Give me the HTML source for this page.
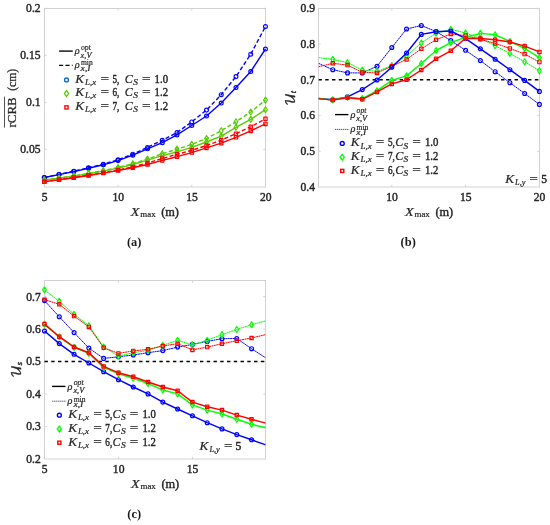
<!DOCTYPE html>
<html lang="en"><head><meta charset="utf-8"><title>Figure</title>
<style>
html,body{margin:0;padding:0;background:#ffffff;}
body{width:550px;height:525px;overflow:hidden;}
svg{display:block;font-family:"Liberation Serif", serif;fill:#262626;}
text{stroke:#262626;stroke-width:0.42px;}
text.s{stroke-width:0.2px;}
text.n{stroke-width:0.22px;}
</style></head>
<body>
<svg width="550" height="525" viewBox="0 0 550 525">
<rect x="0" y="0" width="550" height="525" fill="#ffffff"/>
<rect x="44.5" y="8.5" width="221" height="178.5" fill="none" stroke="#d2d2d2" stroke-width="1"/>
<path d="M44.3 187v-2.2 M44.3 8.5v2.2 M118.02 187v-2.2 M118.02 8.5v2.2 M191.75 187v-2.2 M191.75 8.5v2.2 M265.47 187v-2.2 M265.47 8.5v2.2 M44.5 149.38h2.2 M265.5 149.38h-2.2 M44.5 102.35h2.2 M265.5 102.35h-2.2 M44.5 55.33h2.2 M265.5 55.33h-2.2 M44.5 8.3h2.2 M265.5 8.3h-2.2 " stroke="#d2d2d2" stroke-width="1" fill="none"/>
<g fill="none" stroke-linejoin="round">
<polyline points="44.3,177.5 59.04,174.4 73.79,171.2 88.53,167.8 103.28,164.2 118.02,159.8 132.77,154.2 147.51,147.4 162.26,140.3 177,132.5 191.75,121.9 206.5,110.1 221.24,94.7 235.99,76.6 250.73,54.2 265.47,26.5" stroke="#0000ff" stroke-width="1.4" stroke-dasharray="4.1 2.3"/>
<circle cx="44.3" cy="177.5" r="1.95" fill="none" stroke="#0000ff" stroke-width="1.15"/>
<circle cx="59.04" cy="174.4" r="1.95" fill="none" stroke="#0000ff" stroke-width="1.15"/>
<circle cx="73.79" cy="171.2" r="1.95" fill="none" stroke="#0000ff" stroke-width="1.15"/>
<circle cx="88.53" cy="167.8" r="1.95" fill="none" stroke="#0000ff" stroke-width="1.15"/>
<circle cx="103.28" cy="164.2" r="1.95" fill="none" stroke="#0000ff" stroke-width="1.15"/>
<circle cx="118.02" cy="159.8" r="1.95" fill="none" stroke="#0000ff" stroke-width="1.15"/>
<circle cx="132.77" cy="154.2" r="1.95" fill="none" stroke="#0000ff" stroke-width="1.15"/>
<circle cx="147.51" cy="147.4" r="1.95" fill="none" stroke="#0000ff" stroke-width="1.15"/>
<circle cx="162.26" cy="140.3" r="1.95" fill="none" stroke="#0000ff" stroke-width="1.15"/>
<circle cx="177" cy="132.5" r="1.95" fill="none" stroke="#0000ff" stroke-width="1.15"/>
<circle cx="191.75" cy="121.9" r="1.95" fill="none" stroke="#0000ff" stroke-width="1.15"/>
<circle cx="206.5" cy="110.1" r="1.95" fill="none" stroke="#0000ff" stroke-width="1.15"/>
<circle cx="221.24" cy="94.7" r="1.95" fill="none" stroke="#0000ff" stroke-width="1.15"/>
<circle cx="235.99" cy="76.6" r="1.95" fill="none" stroke="#0000ff" stroke-width="1.15"/>
<circle cx="250.73" cy="54.2" r="1.95" fill="none" stroke="#0000ff" stroke-width="1.15"/>
<circle cx="265.47" cy="26.5" r="1.95" fill="none" stroke="#0000ff" stroke-width="1.15"/>
<polyline points="44.3,177.5 59.04,174.6 73.79,171.6 88.53,168.3 103.28,164.8 118.02,160.6 132.77,155.2 147.51,148.8 162.26,142.7 177,134.9 191.75,125.5 206.5,116 221.24,103 235.99,87.5 250.73,71.5 265.47,49" stroke="#0000ff" stroke-width="1.4"/>
<circle cx="44.3" cy="177.5" r="1.95" fill="none" stroke="#0000ff" stroke-width="1.15"/>
<circle cx="59.04" cy="174.6" r="1.95" fill="none" stroke="#0000ff" stroke-width="1.15"/>
<circle cx="73.79" cy="171.6" r="1.95" fill="none" stroke="#0000ff" stroke-width="1.15"/>
<circle cx="88.53" cy="168.3" r="1.95" fill="none" stroke="#0000ff" stroke-width="1.15"/>
<circle cx="103.28" cy="164.8" r="1.95" fill="none" stroke="#0000ff" stroke-width="1.15"/>
<circle cx="118.02" cy="160.6" r="1.95" fill="none" stroke="#0000ff" stroke-width="1.15"/>
<circle cx="132.77" cy="155.2" r="1.95" fill="none" stroke="#0000ff" stroke-width="1.15"/>
<circle cx="147.51" cy="148.8" r="1.95" fill="none" stroke="#0000ff" stroke-width="1.15"/>
<circle cx="162.26" cy="142.7" r="1.95" fill="none" stroke="#0000ff" stroke-width="1.15"/>
<circle cx="177" cy="134.9" r="1.95" fill="none" stroke="#0000ff" stroke-width="1.15"/>
<circle cx="191.75" cy="125.5" r="1.95" fill="none" stroke="#0000ff" stroke-width="1.15"/>
<circle cx="206.5" cy="116" r="1.95" fill="none" stroke="#0000ff" stroke-width="1.15"/>
<circle cx="221.24" cy="103" r="1.95" fill="none" stroke="#0000ff" stroke-width="1.15"/>
<circle cx="235.99" cy="87.5" r="1.95" fill="none" stroke="#0000ff" stroke-width="1.15"/>
<circle cx="250.73" cy="71.5" r="1.95" fill="none" stroke="#0000ff" stroke-width="1.15"/>
<circle cx="265.47" cy="49" r="1.95" fill="none" stroke="#0000ff" stroke-width="1.15"/>
<polyline points="44.3,180 59.04,178 73.79,175.9 88.53,173.5 103.28,170.7 118.02,167.5 132.77,163.7 147.51,159 162.26,153.8 177,149.1 191.75,144.4 206.5,138.5 221.24,130.7 235.99,121.8 250.73,112 265.47,100.1" stroke="#55cc00" stroke-width="1.4" stroke-dasharray="4.1 2.3"/>
<path d="M44.3 177 L46.2 180 L44.3 183 L42.4 180Z" fill="none" stroke="#55cc00" stroke-width="1.15"/>
<path d="M59.04 175 L60.94 178 L59.04 181 L57.14 178Z" fill="none" stroke="#55cc00" stroke-width="1.15"/>
<path d="M73.79 172.9 L75.69 175.9 L73.79 178.9 L71.89 175.9Z" fill="none" stroke="#55cc00" stroke-width="1.15"/>
<path d="M88.53 170.5 L90.44 173.5 L88.53 176.5 L86.63 173.5Z" fill="none" stroke="#55cc00" stroke-width="1.15"/>
<path d="M103.28 167.7 L105.18 170.7 L103.28 173.7 L101.38 170.7Z" fill="none" stroke="#55cc00" stroke-width="1.15"/>
<path d="M118.02 164.5 L119.92 167.5 L118.02 170.5 L116.12 167.5Z" fill="none" stroke="#55cc00" stroke-width="1.15"/>
<path d="M132.77 160.7 L134.67 163.7 L132.77 166.7 L130.87 163.7Z" fill="none" stroke="#55cc00" stroke-width="1.15"/>
<path d="M147.51 156 L149.41 159 L147.51 162 L145.61 159Z" fill="none" stroke="#55cc00" stroke-width="1.15"/>
<path d="M162.26 150.8 L164.16 153.8 L162.26 156.8 L160.36 153.8Z" fill="none" stroke="#55cc00" stroke-width="1.15"/>
<path d="M177 146.1 L178.91 149.1 L177 152.1 L175.1 149.1Z" fill="none" stroke="#55cc00" stroke-width="1.15"/>
<path d="M191.75 141.4 L193.65 144.4 L191.75 147.4 L189.85 144.4Z" fill="none" stroke="#55cc00" stroke-width="1.15"/>
<path d="M206.5 135.5 L208.4 138.5 L206.5 141.5 L204.59 138.5Z" fill="none" stroke="#55cc00" stroke-width="1.15"/>
<path d="M221.24 127.7 L223.14 130.7 L221.24 133.7 L219.34 130.7Z" fill="none" stroke="#55cc00" stroke-width="1.15"/>
<path d="M235.99 118.8 L237.89 121.8 L235.99 124.8 L234.09 121.8Z" fill="none" stroke="#55cc00" stroke-width="1.15"/>
<path d="M250.73 109 L252.63 112 L250.73 115 L248.83 112Z" fill="none" stroke="#55cc00" stroke-width="1.15"/>
<path d="M265.47 97.1 L267.37 100.1 L265.47 103.1 L263.57 100.1Z" fill="none" stroke="#55cc00" stroke-width="1.15"/>
<polyline points="44.3,180 59.04,178.1 73.79,176.1 88.53,173.8 103.28,171.1 118.02,168.1 132.77,164.5 147.51,160.2 162.26,155.7 177,151.9 191.75,147.4 206.5,142 221.24,136.1 235.99,127.3 250.73,119.4 265.47,109.7" stroke="#55cc00" stroke-width="1.4"/>
<path d="M44.3 177 L46.2 180 L44.3 183 L42.4 180Z" fill="none" stroke="#55cc00" stroke-width="1.15"/>
<path d="M59.04 175.1 L60.94 178.1 L59.04 181.1 L57.14 178.1Z" fill="none" stroke="#55cc00" stroke-width="1.15"/>
<path d="M73.79 173.1 L75.69 176.1 L73.79 179.1 L71.89 176.1Z" fill="none" stroke="#55cc00" stroke-width="1.15"/>
<path d="M88.53 170.8 L90.44 173.8 L88.53 176.8 L86.63 173.8Z" fill="none" stroke="#55cc00" stroke-width="1.15"/>
<path d="M103.28 168.1 L105.18 171.1 L103.28 174.1 L101.38 171.1Z" fill="none" stroke="#55cc00" stroke-width="1.15"/>
<path d="M118.02 165.1 L119.92 168.1 L118.02 171.1 L116.12 168.1Z" fill="none" stroke="#55cc00" stroke-width="1.15"/>
<path d="M132.77 161.5 L134.67 164.5 L132.77 167.5 L130.87 164.5Z" fill="none" stroke="#55cc00" stroke-width="1.15"/>
<path d="M147.51 157.2 L149.41 160.2 L147.51 163.2 L145.61 160.2Z" fill="none" stroke="#55cc00" stroke-width="1.15"/>
<path d="M162.26 152.7 L164.16 155.7 L162.26 158.7 L160.36 155.7Z" fill="none" stroke="#55cc00" stroke-width="1.15"/>
<path d="M177 148.9 L178.91 151.9 L177 154.9 L175.1 151.9Z" fill="none" stroke="#55cc00" stroke-width="1.15"/>
<path d="M191.75 144.4 L193.65 147.4 L191.75 150.4 L189.85 147.4Z" fill="none" stroke="#55cc00" stroke-width="1.15"/>
<path d="M206.5 139 L208.4 142 L206.5 145 L204.59 142Z" fill="none" stroke="#55cc00" stroke-width="1.15"/>
<path d="M221.24 133.1 L223.14 136.1 L221.24 139.1 L219.34 136.1Z" fill="none" stroke="#55cc00" stroke-width="1.15"/>
<path d="M235.99 124.3 L237.89 127.3 L235.99 130.3 L234.09 127.3Z" fill="none" stroke="#55cc00" stroke-width="1.15"/>
<path d="M250.73 116.4 L252.63 119.4 L250.73 122.4 L248.83 119.4Z" fill="none" stroke="#55cc00" stroke-width="1.15"/>
<path d="M265.47 106.7 L267.37 109.7 L265.47 112.7 L263.57 109.7Z" fill="none" stroke="#55cc00" stroke-width="1.15"/>
<polyline points="44.3,181.8 59.04,179.7 73.79,177.5 88.53,175.2 103.28,172.7 118.02,170 132.77,166.9 147.51,163 162.26,158.5 177,154.3 191.75,150.3 206.5,145.5 221.24,140.1 235.99,133.7 250.73,126.8 265.47,118.8" stroke="#ff0000" stroke-width="1.4" stroke-dasharray="4.1 2.3"/>
<rect x="42.65" y="180.15" width="3.3" height="3.3" fill="none" stroke="#ff0000" stroke-width="1.15"/>
<rect x="57.39" y="178.05" width="3.3" height="3.3" fill="none" stroke="#ff0000" stroke-width="1.15"/>
<rect x="72.14" y="175.85" width="3.3" height="3.3" fill="none" stroke="#ff0000" stroke-width="1.15"/>
<rect x="86.88" y="173.55" width="3.3" height="3.3" fill="none" stroke="#ff0000" stroke-width="1.15"/>
<rect x="101.63" y="171.05" width="3.3" height="3.3" fill="none" stroke="#ff0000" stroke-width="1.15"/>
<rect x="116.37" y="168.35" width="3.3" height="3.3" fill="none" stroke="#ff0000" stroke-width="1.15"/>
<rect x="131.12" y="165.25" width="3.3" height="3.3" fill="none" stroke="#ff0000" stroke-width="1.15"/>
<rect x="145.86" y="161.35" width="3.3" height="3.3" fill="none" stroke="#ff0000" stroke-width="1.15"/>
<rect x="160.61" y="156.85" width="3.3" height="3.3" fill="none" stroke="#ff0000" stroke-width="1.15"/>
<rect x="175.35" y="152.65" width="3.3" height="3.3" fill="none" stroke="#ff0000" stroke-width="1.15"/>
<rect x="190.1" y="148.65" width="3.3" height="3.3" fill="none" stroke="#ff0000" stroke-width="1.15"/>
<rect x="204.84" y="143.85" width="3.3" height="3.3" fill="none" stroke="#ff0000" stroke-width="1.15"/>
<rect x="219.59" y="138.45" width="3.3" height="3.3" fill="none" stroke="#ff0000" stroke-width="1.15"/>
<rect x="234.34" y="132.05" width="3.3" height="3.3" fill="none" stroke="#ff0000" stroke-width="1.15"/>
<rect x="249.08" y="125.15" width="3.3" height="3.3" fill="none" stroke="#ff0000" stroke-width="1.15"/>
<rect x="263.82" y="117.15" width="3.3" height="3.3" fill="none" stroke="#ff0000" stroke-width="1.15"/>
<polyline points="44.3,181.8 59.04,179.8 73.79,177.7 88.53,175.5 103.28,173.1 118.02,170.5 132.77,167.7 147.51,164.5 162.26,160.4 177,156.7 191.75,152.6 206.5,147.9 221.24,143.2 235.99,137.3 250.73,130.9 265.47,123.9" stroke="#ff0000" stroke-width="1.4"/>
<rect x="42.65" y="180.15" width="3.3" height="3.3" fill="none" stroke="#ff0000" stroke-width="1.15"/>
<rect x="57.39" y="178.15" width="3.3" height="3.3" fill="none" stroke="#ff0000" stroke-width="1.15"/>
<rect x="72.14" y="176.05" width="3.3" height="3.3" fill="none" stroke="#ff0000" stroke-width="1.15"/>
<rect x="86.88" y="173.85" width="3.3" height="3.3" fill="none" stroke="#ff0000" stroke-width="1.15"/>
<rect x="101.63" y="171.45" width="3.3" height="3.3" fill="none" stroke="#ff0000" stroke-width="1.15"/>
<rect x="116.37" y="168.85" width="3.3" height="3.3" fill="none" stroke="#ff0000" stroke-width="1.15"/>
<rect x="131.12" y="166.05" width="3.3" height="3.3" fill="none" stroke="#ff0000" stroke-width="1.15"/>
<rect x="145.86" y="162.85" width="3.3" height="3.3" fill="none" stroke="#ff0000" stroke-width="1.15"/>
<rect x="160.61" y="158.75" width="3.3" height="3.3" fill="none" stroke="#ff0000" stroke-width="1.15"/>
<rect x="175.35" y="155.05" width="3.3" height="3.3" fill="none" stroke="#ff0000" stroke-width="1.15"/>
<rect x="190.1" y="150.95" width="3.3" height="3.3" fill="none" stroke="#ff0000" stroke-width="1.15"/>
<rect x="204.84" y="146.25" width="3.3" height="3.3" fill="none" stroke="#ff0000" stroke-width="1.15"/>
<rect x="219.59" y="141.55" width="3.3" height="3.3" fill="none" stroke="#ff0000" stroke-width="1.15"/>
<rect x="234.34" y="135.65" width="3.3" height="3.3" fill="none" stroke="#ff0000" stroke-width="1.15"/>
<rect x="249.08" y="129.25" width="3.3" height="3.3" fill="none" stroke="#ff0000" stroke-width="1.15"/>
<rect x="263.82" y="122.25" width="3.3" height="3.3" fill="none" stroke="#ff0000" stroke-width="1.15"/>
</g>
<text x="40.6" y="153.28" font-size="11.6" text-anchor="end" >0.05</text>
<text x="40.6" y="106.25" font-size="11.6" text-anchor="end" >0.1</text>
<text x="40.6" y="59.23" font-size="11.6" text-anchor="end" >0.15</text>
<text x="40.6" y="12.2" font-size="11.6" text-anchor="end" >0.2</text>
<text x="44.6" y="201.2" font-size="11.6" text-anchor="middle" >5</text>
<text x="118.32" y="201.2" font-size="11.6" text-anchor="middle" >10</text>
<text x="192.05" y="201.2" font-size="11.6" text-anchor="middle" >15</text>
<text x="265.77" y="201.2" font-size="11.6" text-anchor="middle" >20</text>
<text x="130.88" y="215.7" font-size="12.3" textLength="8.65" lengthAdjust="spacingAndGlyphs" font-style="italic" class="n">X</text>
<text x="140.3" y="217.3" font-size="8" textLength="15.3" lengthAdjust="spacingAndGlyphs" class="s">max</text>
<text x="161.2" y="215.7" font-size="12.3" textLength="17.8" lengthAdjust="spacingAndGlyphs">(m)</text>
<g transform="translate(15.5 0) rotate(-90)">
<text x="-127.5" y="0" font-size="13.4" textLength="30.2" lengthAdjust="spacingAndGlyphs" style="stroke-width:0.25px">rCRB</text>
<text x="-90.8" y="0" font-size="13" textLength="21.9" lengthAdjust="spacingAndGlyphs" style="stroke-width:0.25px">(cm)</text>
<path d="M-127.6 -11H-96.6" stroke="#262626" stroke-width="0.8"/></g>
<path d="M59.1 51.1H72.7" stroke="#000" stroke-width="1.35"/>
<path d="M59.1 65.3H72.7" stroke="#000" stroke-width="1.35" stroke-dasharray="4.1 2.3"/>
<text x="74.77" y="54.3" font-size="10.6" textLength="4.93" lengthAdjust="spacingAndGlyphs" font-style="italic" class="n">ρ</text>
<text x="80.9" y="49.5" font-size="8.6" textLength="10" lengthAdjust="spacingAndGlyphs" class="s">opt</text>
<text x="80.61" y="57.5" font-size="7.9" textLength="10.88" lengthAdjust="spacingAndGlyphs" font-style="italic" class="s">x,V</text>
<text x="74.77" y="67.5" font-size="10.6" textLength="4.93" lengthAdjust="spacingAndGlyphs" font-style="italic" class="n">ρ</text>
<text x="80.9" y="65.3" font-size="8.6" textLength="11.8" lengthAdjust="spacingAndGlyphs" class="s">min</text>
<text x="80.63" y="70.7" font-size="7.9" textLength="9.89" lengthAdjust="spacingAndGlyphs" font-style="italic" class="s">x,I</text>
<circle cx="66.5" cy="79.9" r="1.95" fill="none" stroke="#0a66d6" stroke-width="1.35"/>
<path d="M66.5 90.6l2.1 2.9l-2.1 2.9l-2.1 -2.9z" fill="none" stroke="#55cc00" stroke-width="1.25"/>
<rect x="64.9" y="105.8" width="3.2" height="3.2" fill="none" stroke="#ff0000" stroke-width="1.35"/>
<text x="75.36" y="82.5" font-size="11.6" textLength="8.87" lengthAdjust="spacingAndGlyphs" font-style="italic" class="n">K</text>
<text x="85.11" y="84.7" font-size="7.8" textLength="11.09" lengthAdjust="spacingAndGlyphs" font-style="italic" class="s">L,x</text>
<text x="100.4" y="82.5" font-size="11.6" textLength="8.6" lengthAdjust="spacingAndGlyphs" class="n">=</text>
<text x="112.5" y="82.5" font-size="11.6" textLength="6.9" lengthAdjust="spacingAndGlyphs">5,</text>
<text x="124.8" y="82.5" font-size="11.6" textLength="8.08" lengthAdjust="spacingAndGlyphs" font-style="italic" class="n">C</text>
<text x="133.2" y="84.7" font-size="7.8" textLength="4.7" lengthAdjust="spacingAndGlyphs" font-style="italic" class="s">S</text>
<text x="141.9" y="82.5" font-size="11.6" textLength="8.6" lengthAdjust="spacingAndGlyphs" class="n">=</text>
<text x="154.6" y="82.5" font-size="11.6" textLength="13.4" lengthAdjust="spacingAndGlyphs">1.0</text>
<text x="75.36" y="96.15" font-size="11.6" textLength="8.87" lengthAdjust="spacingAndGlyphs" font-style="italic" class="n">K</text>
<text x="85.11" y="98.35" font-size="7.8" textLength="11.09" lengthAdjust="spacingAndGlyphs" font-style="italic" class="s">L,x</text>
<text x="100.4" y="96.15" font-size="11.6" textLength="8.6" lengthAdjust="spacingAndGlyphs" class="n">=</text>
<text x="112.5" y="96.15" font-size="11.6" textLength="6.9" lengthAdjust="spacingAndGlyphs">6,</text>
<text x="124.8" y="96.15" font-size="11.6" textLength="8.08" lengthAdjust="spacingAndGlyphs" font-style="italic" class="n">C</text>
<text x="133.2" y="98.35" font-size="7.8" textLength="4.7" lengthAdjust="spacingAndGlyphs" font-style="italic" class="s">S</text>
<text x="141.9" y="96.15" font-size="11.6" textLength="8.6" lengthAdjust="spacingAndGlyphs" class="n">=</text>
<text x="154.6" y="96.15" font-size="11.6" textLength="13.4" lengthAdjust="spacingAndGlyphs">1.2</text>
<text x="75.36" y="109.8" font-size="11.6" textLength="8.87" lengthAdjust="spacingAndGlyphs" font-style="italic" class="n">K</text>
<text x="85.11" y="112" font-size="7.8" textLength="11.09" lengthAdjust="spacingAndGlyphs" font-style="italic" class="s">L,x</text>
<text x="100.4" y="109.8" font-size="11.6" textLength="8.6" lengthAdjust="spacingAndGlyphs" class="n">=</text>
<text x="112.5" y="109.8" font-size="11.6" textLength="6.9" lengthAdjust="spacingAndGlyphs">7,</text>
<text x="124.8" y="109.8" font-size="11.6" textLength="8.08" lengthAdjust="spacingAndGlyphs" font-style="italic" class="n">C</text>
<text x="133.2" y="112" font-size="7.8" textLength="4.7" lengthAdjust="spacingAndGlyphs" font-style="italic" class="s">S</text>
<text x="141.9" y="109.8" font-size="11.6" textLength="8.6" lengthAdjust="spacingAndGlyphs" class="n">=</text>
<text x="154.6" y="109.8" font-size="11.6" textLength="13.4" lengthAdjust="spacingAndGlyphs">1.2</text>
<text x="134.2" y="246" font-size="12.4" font-weight="bold" text-anchor="middle" fill="#1a1a1a" style="stroke:none">(a)</text>
<rect x="318.5" y="8.5" width="221" height="178.5" fill="none" stroke="#d2d2d2" stroke-width="1"/>
<path d="M391.8 187v-2.2 M391.8 8.5v2.2 M465.6 187v-2.2 M465.6 8.5v2.2 M539.4 187v-2.2 M539.4 8.5v2.2 M318.5 151.34h2.2 M539.5 151.34h-2.2 M318.5 115.58h2.2 M539.5 115.58h-2.2 M318.5 79.82h2.2 M539.5 79.82h-2.2 M318.5 44.06h2.2 M539.5 44.06h-2.2 M318.5 8.3h2.2 M539.5 8.3h-2.2 " stroke="#d2d2d2" stroke-width="1" fill="none"/>
<clipPath id="cb"><rect x="318.5" y="4.5" width="226" height="186.5"/></clipPath>
<g fill="none" stroke-linejoin="round" clip-path="url(#cb)">
<path d="M318.5 79.82H539.5" stroke="#000" stroke-width="1.5" stroke-dasharray="3.4 3.36"/>
<polyline points="318.44,63.3 332.76,69.7 347.52,72.9 362.28,72.9 377.04,66.3 391.8,47.5 406.56,29 421.32,25.5 436.08,31.5 450.84,40.6 465.6,50.3 480.36,60.6 495.12,71.7 509.88,82.7 524.64,93.5 539.4,104.4" stroke="#0000ff" stroke-width="0.99" stroke-dasharray="2 0.4"/>
<circle cx="332.76" cy="69.7" r="1.95" fill="none" stroke="#0000ff" stroke-width="1.2"/>
<circle cx="347.52" cy="72.9" r="1.95" fill="none" stroke="#0000ff" stroke-width="1.2"/>
<circle cx="362.28" cy="72.9" r="1.95" fill="none" stroke="#0000ff" stroke-width="1.2"/>
<circle cx="377.04" cy="66.3" r="1.95" fill="none" stroke="#0000ff" stroke-width="1.2"/>
<circle cx="391.8" cy="47.5" r="1.95" fill="none" stroke="#0000ff" stroke-width="1.2"/>
<circle cx="406.56" cy="29" r="1.95" fill="none" stroke="#0000ff" stroke-width="1.2"/>
<circle cx="421.32" cy="25.5" r="1.95" fill="none" stroke="#0000ff" stroke-width="1.2"/>
<circle cx="436.08" cy="31.5" r="1.95" fill="none" stroke="#0000ff" stroke-width="1.2"/>
<circle cx="450.84" cy="40.6" r="1.95" fill="none" stroke="#0000ff" stroke-width="1.2"/>
<circle cx="465.6" cy="50.3" r="1.95" fill="none" stroke="#0000ff" stroke-width="1.2"/>
<circle cx="480.36" cy="60.6" r="1.95" fill="none" stroke="#0000ff" stroke-width="1.2"/>
<circle cx="495.12" cy="71.7" r="1.95" fill="none" stroke="#0000ff" stroke-width="1.2"/>
<circle cx="509.88" cy="82.7" r="1.95" fill="none" stroke="#0000ff" stroke-width="1.2"/>
<circle cx="524.64" cy="93.5" r="1.95" fill="none" stroke="#0000ff" stroke-width="1.2"/>
<circle cx="539.4" cy="104.4" r="1.95" fill="none" stroke="#0000ff" stroke-width="1.2"/>
<polyline points="318.44,57.6 332.76,59.4 347.52,62.6 362.28,70.1 377.04,71.3 391.8,65.6 406.56,55.7 421.32,43 436.08,33.2 450.84,29.3 465.6,33 480.36,38.5 495.12,45.7 509.88,53.5 524.64,61.7 539.4,70.8" stroke="#00ff00" stroke-width="0.99" stroke-dasharray="2 0.4"/>
<path d="M332.76 56.4 L334.66 59.4 L332.76 62.4 L330.86 59.4Z" fill="none" stroke="#00ff00" stroke-width="1.2"/>
<path d="M347.52 59.6 L349.42 62.6 L347.52 65.6 L345.62 62.6Z" fill="none" stroke="#00ff00" stroke-width="1.2"/>
<path d="M362.28 67.1 L364.18 70.1 L362.28 73.1 L360.38 70.1Z" fill="none" stroke="#00ff00" stroke-width="1.2"/>
<path d="M377.04 68.3 L378.94 71.3 L377.04 74.3 L375.14 71.3Z" fill="none" stroke="#00ff00" stroke-width="1.2"/>
<path d="M391.8 62.6 L393.7 65.6 L391.8 68.6 L389.9 65.6Z" fill="none" stroke="#00ff00" stroke-width="1.2"/>
<path d="M406.56 52.7 L408.46 55.7 L406.56 58.7 L404.66 55.7Z" fill="none" stroke="#00ff00" stroke-width="1.2"/>
<path d="M421.32 40 L423.22 43 L421.32 46 L419.42 43Z" fill="none" stroke="#00ff00" stroke-width="1.2"/>
<path d="M436.08 30.2 L437.98 33.2 L436.08 36.2 L434.18 33.2Z" fill="none" stroke="#00ff00" stroke-width="1.2"/>
<path d="M450.84 26.3 L452.74 29.3 L450.84 32.3 L448.94 29.3Z" fill="none" stroke="#00ff00" stroke-width="1.2"/>
<path d="M465.6 30 L467.5 33 L465.6 36 L463.7 33Z" fill="none" stroke="#00ff00" stroke-width="1.2"/>
<path d="M480.36 35.5 L482.26 38.5 L480.36 41.5 L478.46 38.5Z" fill="none" stroke="#00ff00" stroke-width="1.2"/>
<path d="M495.12 42.7 L497.02 45.7 L495.12 48.7 L493.22 45.7Z" fill="none" stroke="#00ff00" stroke-width="1.2"/>
<path d="M509.88 50.5 L511.78 53.5 L509.88 56.5 L507.98 53.5Z" fill="none" stroke="#00ff00" stroke-width="1.2"/>
<path d="M524.64 58.7 L526.54 61.7 L524.64 64.7 L522.74 61.7Z" fill="none" stroke="#00ff00" stroke-width="1.2"/>
<path d="M539.4 67.8 L541.3 70.8 L539.4 73.8 L537.5 70.8Z" fill="none" stroke="#00ff00" stroke-width="1.2"/>
<polyline points="318.44,66.8 332.76,63.3 347.52,65.1 362.28,72.4 377.04,72.9 391.8,66.3 406.56,59.4 421.32,48.8 436.08,39.7 450.84,34 465.6,35.6 480.36,39.3 495.12,43.4 509.88,48.4 524.64,54.1 539.4,62.1" stroke="#ff0000" stroke-width="0.99" stroke-dasharray="2 0.4"/>
<rect x="331.11" y="61.65" width="3.3" height="3.3" fill="none" stroke="#ff0000" stroke-width="1.2"/>
<rect x="345.87" y="63.45" width="3.3" height="3.3" fill="none" stroke="#ff0000" stroke-width="1.2"/>
<rect x="360.63" y="70.75" width="3.3" height="3.3" fill="none" stroke="#ff0000" stroke-width="1.2"/>
<rect x="375.39" y="71.25" width="3.3" height="3.3" fill="none" stroke="#ff0000" stroke-width="1.2"/>
<rect x="390.15" y="64.65" width="3.3" height="3.3" fill="none" stroke="#ff0000" stroke-width="1.2"/>
<rect x="404.91" y="57.75" width="3.3" height="3.3" fill="none" stroke="#ff0000" stroke-width="1.2"/>
<rect x="419.67" y="47.15" width="3.3" height="3.3" fill="none" stroke="#ff0000" stroke-width="1.2"/>
<rect x="434.43" y="38.05" width="3.3" height="3.3" fill="none" stroke="#ff0000" stroke-width="1.2"/>
<rect x="449.19" y="32.35" width="3.3" height="3.3" fill="none" stroke="#ff0000" stroke-width="1.2"/>
<rect x="463.95" y="33.95" width="3.3" height="3.3" fill="none" stroke="#ff0000" stroke-width="1.2"/>
<rect x="478.71" y="37.65" width="3.3" height="3.3" fill="none" stroke="#ff0000" stroke-width="1.2"/>
<rect x="493.47" y="41.75" width="3.3" height="3.3" fill="none" stroke="#ff0000" stroke-width="1.2"/>
<rect x="508.23" y="46.75" width="3.3" height="3.3" fill="none" stroke="#ff0000" stroke-width="1.2"/>
<rect x="522.99" y="52.45" width="3.3" height="3.3" fill="none" stroke="#ff0000" stroke-width="1.2"/>
<rect x="537.75" y="60.45" width="3.3" height="3.3" fill="none" stroke="#ff0000" stroke-width="1.2"/>
<polyline points="318.44,98.5 332.76,99.8 347.52,96.9 362.28,89.6 377.04,80 391.8,67.2 406.56,53 421.32,34.4 436.08,31.7 450.84,31 465.6,38.6 480.36,48.8 495.12,59.2 509.88,69.7 524.64,80.4 539.4,91.4" stroke="#0000ff" stroke-width="1.45"/>
<circle cx="332.76" cy="99.8" r="1.95" fill="none" stroke="#0000ff" stroke-width="1.2"/>
<circle cx="347.52" cy="96.9" r="1.95" fill="none" stroke="#0000ff" stroke-width="1.2"/>
<circle cx="362.28" cy="89.6" r="1.95" fill="none" stroke="#0000ff" stroke-width="1.2"/>
<circle cx="377.04" cy="80" r="1.95" fill="none" stroke="#0000ff" stroke-width="1.2"/>
<circle cx="391.8" cy="67.2" r="1.95" fill="none" stroke="#0000ff" stroke-width="1.2"/>
<circle cx="406.56" cy="53" r="1.95" fill="none" stroke="#0000ff" stroke-width="1.2"/>
<circle cx="421.32" cy="34.4" r="1.95" fill="none" stroke="#0000ff" stroke-width="1.2"/>
<circle cx="436.08" cy="31.7" r="1.95" fill="none" stroke="#0000ff" stroke-width="1.2"/>
<circle cx="450.84" cy="31" r="1.95" fill="none" stroke="#0000ff" stroke-width="1.2"/>
<circle cx="465.6" cy="38.6" r="1.95" fill="none" stroke="#0000ff" stroke-width="1.2"/>
<circle cx="480.36" cy="48.8" r="1.95" fill="none" stroke="#0000ff" stroke-width="1.2"/>
<circle cx="495.12" cy="59.2" r="1.95" fill="none" stroke="#0000ff" stroke-width="1.2"/>
<circle cx="509.88" cy="69.7" r="1.95" fill="none" stroke="#0000ff" stroke-width="1.2"/>
<circle cx="524.64" cy="80.4" r="1.95" fill="none" stroke="#0000ff" stroke-width="1.2"/>
<circle cx="539.4" cy="91.4" r="1.95" fill="none" stroke="#0000ff" stroke-width="1.2"/>
<polyline points="318.44,98.5 332.76,99.9 347.52,97.3 362.28,98.6 377.04,90.7 391.8,80.4 406.56,75.9 421.32,63.5 436.08,50.5 450.84,42.6 465.6,37.2 480.36,33.4 495.12,34.7 509.88,41.6 524.64,48.4 539.4,57.6" stroke="#00ff00" stroke-width="1.45"/>
<path d="M332.76 96.9 L334.66 99.9 L332.76 102.9 L330.86 99.9Z" fill="none" stroke="#00ff00" stroke-width="1.2"/>
<path d="M347.52 94.3 L349.42 97.3 L347.52 100.3 L345.62 97.3Z" fill="none" stroke="#00ff00" stroke-width="1.2"/>
<path d="M362.28 95.6 L364.18 98.6 L362.28 101.6 L360.38 98.6Z" fill="none" stroke="#00ff00" stroke-width="1.2"/>
<path d="M377.04 87.7 L378.94 90.7 L377.04 93.7 L375.14 90.7Z" fill="none" stroke="#00ff00" stroke-width="1.2"/>
<path d="M391.8 77.4 L393.7 80.4 L391.8 83.4 L389.9 80.4Z" fill="none" stroke="#00ff00" stroke-width="1.2"/>
<path d="M406.56 72.9 L408.46 75.9 L406.56 78.9 L404.66 75.9Z" fill="none" stroke="#00ff00" stroke-width="1.2"/>
<path d="M421.32 60.5 L423.22 63.5 L421.32 66.5 L419.42 63.5Z" fill="none" stroke="#00ff00" stroke-width="1.2"/>
<path d="M436.08 47.5 L437.98 50.5 L436.08 53.5 L434.18 50.5Z" fill="none" stroke="#00ff00" stroke-width="1.2"/>
<path d="M450.84 39.6 L452.74 42.6 L450.84 45.6 L448.94 42.6Z" fill="none" stroke="#00ff00" stroke-width="1.2"/>
<path d="M465.6 34.2 L467.5 37.2 L465.6 40.2 L463.7 37.2Z" fill="none" stroke="#00ff00" stroke-width="1.2"/>
<path d="M480.36 30.4 L482.26 33.4 L480.36 36.4 L478.46 33.4Z" fill="none" stroke="#00ff00" stroke-width="1.2"/>
<path d="M495.12 31.7 L497.02 34.7 L495.12 37.7 L493.22 34.7Z" fill="none" stroke="#00ff00" stroke-width="1.2"/>
<path d="M509.88 38.6 L511.78 41.6 L509.88 44.6 L507.98 41.6Z" fill="none" stroke="#00ff00" stroke-width="1.2"/>
<path d="M524.64 45.4 L526.54 48.4 L524.64 51.4 L522.74 48.4Z" fill="none" stroke="#00ff00" stroke-width="1.2"/>
<path d="M539.4 54.6 L541.3 57.6 L539.4 60.6 L537.5 57.6Z" fill="none" stroke="#00ff00" stroke-width="1.2"/>
<polyline points="318.44,98.6 332.76,100.1 347.52,97.7 362.28,99.3 377.04,91.9 391.8,83.9 406.56,79.7 421.32,70 436.08,58.8 450.84,50.8 465.6,38.3 480.36,38.5 495.12,39.7 509.88,42 524.64,46.1 539.4,51.9" stroke="#ff0000" stroke-width="1.45"/>
<rect x="331.11" y="98.45" width="3.3" height="3.3" fill="none" stroke="#ff0000" stroke-width="1.2"/>
<rect x="345.87" y="96.05" width="3.3" height="3.3" fill="none" stroke="#ff0000" stroke-width="1.2"/>
<rect x="360.63" y="97.65" width="3.3" height="3.3" fill="none" stroke="#ff0000" stroke-width="1.2"/>
<rect x="375.39" y="90.25" width="3.3" height="3.3" fill="none" stroke="#ff0000" stroke-width="1.2"/>
<rect x="390.15" y="82.25" width="3.3" height="3.3" fill="none" stroke="#ff0000" stroke-width="1.2"/>
<rect x="404.91" y="78.05" width="3.3" height="3.3" fill="none" stroke="#ff0000" stroke-width="1.2"/>
<rect x="419.67" y="68.35" width="3.3" height="3.3" fill="none" stroke="#ff0000" stroke-width="1.2"/>
<rect x="434.43" y="57.15" width="3.3" height="3.3" fill="none" stroke="#ff0000" stroke-width="1.2"/>
<rect x="449.19" y="49.15" width="3.3" height="3.3" fill="none" stroke="#ff0000" stroke-width="1.2"/>
<rect x="463.95" y="36.65" width="3.3" height="3.3" fill="none" stroke="#ff0000" stroke-width="1.2"/>
<rect x="478.71" y="36.85" width="3.3" height="3.3" fill="none" stroke="#ff0000" stroke-width="1.2"/>
<rect x="493.47" y="38.05" width="3.3" height="3.3" fill="none" stroke="#ff0000" stroke-width="1.2"/>
<rect x="508.23" y="40.35" width="3.3" height="3.3" fill="none" stroke="#ff0000" stroke-width="1.2"/>
<rect x="522.99" y="44.45" width="3.3" height="3.3" fill="none" stroke="#ff0000" stroke-width="1.2"/>
<rect x="537.75" y="50.25" width="3.3" height="3.3" fill="none" stroke="#ff0000" stroke-width="1.2"/>
</g>
<text x="315" y="191" font-size="11.6" text-anchor="end" >0.4</text>
<text x="315" y="155.24" font-size="11.6" text-anchor="end" >0.5</text>
<text x="315" y="119.48" font-size="11.6" text-anchor="end" >0.6</text>
<text x="315" y="83.72" font-size="11.6" text-anchor="end" >0.7</text>
<text x="315" y="47.96" font-size="11.6" text-anchor="end" >0.8</text>
<text x="315" y="12.2" font-size="11.6" text-anchor="end" >0.9</text>
<text x="392" y="201.2" font-size="11.6" text-anchor="middle" >10</text>
<text x="465.8" y="201.2" font-size="11.6" text-anchor="middle" >15</text>
<text x="539.6" y="201.2" font-size="11.6" text-anchor="middle" >20</text>
<text x="405.08" y="215.7" font-size="12.3" textLength="8.65" lengthAdjust="spacingAndGlyphs" font-style="italic" class="n">X</text>
<text x="414.5" y="217.3" font-size="8" textLength="15.3" lengthAdjust="spacingAndGlyphs" class="s">max</text>
<text x="435.4" y="215.7" font-size="12.3" textLength="17.8" lengthAdjust="spacingAndGlyphs">(m)</text>
<g transform="translate(294.7 98.4) rotate(-90)"><text x="0" y="0" text-anchor="middle"><tspan font-family="'DejaVu Math TeX Gyre', 'Liberation Serif', serif" font-size="12.8">𝒰</tspan><tspan font-size="8.4" font-style="italic" dy="1.6">t</tspan></text></g>
<path d="M335 114.6h13.4" stroke="#000" stroke-width="1.4"/>
<path d="M335 129.4h14.2" stroke="#333" stroke-width="0.8" stroke-dasharray="1.4 0.6"/>
<text x="350.47" y="117.8" font-size="10.6" textLength="4.93" lengthAdjust="spacingAndGlyphs" font-style="italic" class="n">ρ</text>
<text x="356.6" y="113" font-size="8.6" textLength="9.84" lengthAdjust="spacingAndGlyphs" font-style="italic" class="s">opt</text>
<text x="356.31" y="121" font-size="7.9" textLength="10.88" lengthAdjust="spacingAndGlyphs" font-style="italic" class="s">x,V</text>
<text x="350.47" y="131.9" font-size="10.6" textLength="4.93" lengthAdjust="spacingAndGlyphs" font-style="italic" class="n">ρ</text>
<text x="356.6" y="129.7" font-size="8.6" textLength="11.8" lengthAdjust="spacingAndGlyphs" class="s">min</text>
<text x="356.33" y="135.1" font-size="7.9" textLength="9.89" lengthAdjust="spacingAndGlyphs" font-style="italic" class="s">x,I</text>
<circle cx="342.25" cy="143.4" r="1.95" fill="none" stroke="#0000ff" stroke-width="1.4"/>
<path d="M342.25 154.3l2.1 2.9l-2.1 2.9l-2.1 -2.9z" fill="none" stroke="#00ff00" stroke-width="1.3"/>
<rect x="340.7" y="169.35" width="3.1" height="3.1" fill="none" stroke="#ff0000" stroke-width="1.4"/>
<text x="350.76" y="146.4" font-size="11.6" textLength="8.87" lengthAdjust="spacingAndGlyphs" font-style="italic" class="n">K</text>
<text x="360.51" y="148.6" font-size="7.8" textLength="11.09" lengthAdjust="spacingAndGlyphs" font-style="italic" class="s">L,x</text>
<text x="375.8" y="146.4" font-size="11.6" textLength="8.6" lengthAdjust="spacingAndGlyphs" class="n">=</text>
<text x="387.9" y="146.4" font-size="11.6" textLength="6.9" lengthAdjust="spacingAndGlyphs">5,</text>
<text x="395.2" y="146.4" font-size="11.6" textLength="8.08" lengthAdjust="spacingAndGlyphs" font-style="italic" class="n">C</text>
<text x="403.6" y="148.6" font-size="7.8" textLength="4.7" lengthAdjust="spacingAndGlyphs" font-style="italic" class="s">S</text>
<text x="412.3" y="146.4" font-size="11.6" textLength="8.6" lengthAdjust="spacingAndGlyphs" class="n">=</text>
<text x="425" y="146.4" font-size="11.6" textLength="13.4" lengthAdjust="spacingAndGlyphs">1.0</text>
<text x="350.76" y="160" font-size="11.6" textLength="8.87" lengthAdjust="spacingAndGlyphs" font-style="italic" class="n">K</text>
<text x="360.51" y="162.2" font-size="7.8" textLength="11.09" lengthAdjust="spacingAndGlyphs" font-style="italic" class="s">L,x</text>
<text x="375.8" y="160" font-size="11.6" textLength="8.6" lengthAdjust="spacingAndGlyphs" class="n">=</text>
<text x="387.9" y="160" font-size="11.6" textLength="6.9" lengthAdjust="spacingAndGlyphs">7,</text>
<text x="395.2" y="160" font-size="11.6" textLength="8.08" lengthAdjust="spacingAndGlyphs" font-style="italic" class="n">C</text>
<text x="403.6" y="162.2" font-size="7.8" textLength="4.7" lengthAdjust="spacingAndGlyphs" font-style="italic" class="s">S</text>
<text x="412.3" y="160" font-size="11.6" textLength="8.6" lengthAdjust="spacingAndGlyphs" class="n">=</text>
<text x="425" y="160" font-size="11.6" textLength="13.4" lengthAdjust="spacingAndGlyphs">1.2</text>
<text x="350.76" y="173.7" font-size="11.6" textLength="8.87" lengthAdjust="spacingAndGlyphs" font-style="italic" class="n">K</text>
<text x="360.51" y="175.9" font-size="7.8" textLength="11.09" lengthAdjust="spacingAndGlyphs" font-style="italic" class="s">L,x</text>
<text x="375.8" y="173.7" font-size="11.6" textLength="8.6" lengthAdjust="spacingAndGlyphs" class="n">=</text>
<text x="387.9" y="173.7" font-size="11.6" textLength="6.9" lengthAdjust="spacingAndGlyphs">6,</text>
<text x="395.2" y="173.7" font-size="11.6" textLength="8.08" lengthAdjust="spacingAndGlyphs" font-style="italic" class="n">C</text>
<text x="403.6" y="175.9" font-size="7.8" textLength="4.7" lengthAdjust="spacingAndGlyphs" font-style="italic" class="s">S</text>
<text x="412.3" y="173.7" font-size="11.6" textLength="8.6" lengthAdjust="spacingAndGlyphs" class="n">=</text>
<text x="425" y="173.7" font-size="11.6" textLength="13.4" lengthAdjust="spacingAndGlyphs">1.2</text>
<text x="505.16" y="182.5" font-size="11.6" textLength="8.87" lengthAdjust="spacingAndGlyphs" font-style="italic" class="n">K</text>
<text x="515.1" y="184.7" font-size="7.8" textLength="10.39" lengthAdjust="spacingAndGlyphs" font-style="italic" class="s">L,y</text>
<text x="529.6" y="182.5" font-size="11.6" textLength="8.4" lengthAdjust="spacingAndGlyphs" class="n">=</text>
<text x="541.2" y="182.5" font-size="11.6" textLength="5.8" lengthAdjust="spacingAndGlyphs">5</text>
<text x="408.2" y="246" font-size="12.4" font-weight="bold" text-anchor="middle" fill="#1a1a1a" style="stroke:none">(b)</text>
<rect x="44.5" y="280.5" width="221" height="178.5" fill="none" stroke="#d2d2d2" stroke-width="1"/>
<path d="M44.5 459v-2.2 M44.5 280.5v2.2 M118.45 459v-2.2 M118.45 280.5v2.2 M192.4 459v-2.2 M192.4 280.5v2.2 M44.5 426.45h2.2 M265.5 426.45h-2.2 M44.5 393.99h2.2 M265.5 393.99h-2.2 M44.5 361.54h2.2 M265.5 361.54h-2.2 M44.5 329.08h2.2 M265.5 329.08h-2.2 M44.5 296.63h2.2 M265.5 296.63h-2.2 " stroke="#d2d2d2" stroke-width="1" fill="none"/>
<clipPath id="cc"><rect x="39.5" y="276.5" width="226" height="186.5"/></clipPath>
<g fill="none" stroke-linejoin="round" clip-path="url(#cc)">
<path d="M44.5 361.54H265.5" stroke="#000" stroke-width="1.5" stroke-dasharray="3.4 3.36"/>
<polyline points="44.5,300.6 59.29,316.8 74.08,332.6 88.87,348.1 103.66,358.4 118.45,356.8 133.24,355 148.03,352.7 162.82,350.6 177.61,347.1 192.4,344.4 207.19,341.4 221.98,338.7 236.77,338.5 251.56,348.7 265.76,357.9" stroke="#0000ff" stroke-width="0.99" stroke-dasharray="2 0.4"/>
<circle cx="44.5" cy="300.6" r="1.95" fill="none" stroke="#0000ff" stroke-width="1.2"/>
<circle cx="59.29" cy="316.8" r="1.95" fill="none" stroke="#0000ff" stroke-width="1.2"/>
<circle cx="74.08" cy="332.6" r="1.95" fill="none" stroke="#0000ff" stroke-width="1.2"/>
<circle cx="88.87" cy="348.1" r="1.95" fill="none" stroke="#0000ff" stroke-width="1.2"/>
<circle cx="103.66" cy="358.4" r="1.95" fill="none" stroke="#0000ff" stroke-width="1.2"/>
<circle cx="118.45" cy="356.8" r="1.95" fill="none" stroke="#0000ff" stroke-width="1.2"/>
<circle cx="133.24" cy="355" r="1.95" fill="none" stroke="#0000ff" stroke-width="1.2"/>
<circle cx="148.03" cy="352.7" r="1.95" fill="none" stroke="#0000ff" stroke-width="1.2"/>
<circle cx="162.82" cy="350.6" r="1.95" fill="none" stroke="#0000ff" stroke-width="1.2"/>
<circle cx="177.61" cy="347.1" r="1.95" fill="none" stroke="#0000ff" stroke-width="1.2"/>
<circle cx="192.4" cy="344.4" r="1.95" fill="none" stroke="#0000ff" stroke-width="1.2"/>
<circle cx="207.19" cy="341.4" r="1.95" fill="none" stroke="#0000ff" stroke-width="1.2"/>
<circle cx="221.98" cy="338.7" r="1.95" fill="none" stroke="#0000ff" stroke-width="1.2"/>
<circle cx="236.77" cy="338.5" r="1.95" fill="none" stroke="#0000ff" stroke-width="1.2"/>
<circle cx="251.56" cy="348.7" r="1.95" fill="none" stroke="#0000ff" stroke-width="1.2"/>
<polyline points="44.5,289.9 59.29,301.3 74.08,314.3 88.87,325.7 103.66,347 118.45,356.1 133.24,352.7 148.03,350.4 162.82,345.3 177.61,340.3 192.4,344.9 207.19,340.3 221.98,334.6 236.77,329.5 251.56,324.7 265.76,320.9" stroke="#00ff00" stroke-width="0.99" stroke-dasharray="2 0.4"/>
<path d="M44.5 286.9 L46.4 289.9 L44.5 292.9 L42.6 289.9Z" fill="none" stroke="#00ff00" stroke-width="1.2"/>
<path d="M59.29 298.3 L61.19 301.3 L59.29 304.3 L57.39 301.3Z" fill="none" stroke="#00ff00" stroke-width="1.2"/>
<path d="M74.08 311.3 L75.98 314.3 L74.08 317.3 L72.18 314.3Z" fill="none" stroke="#00ff00" stroke-width="1.2"/>
<path d="M88.87 322.7 L90.77 325.7 L88.87 328.7 L86.97 325.7Z" fill="none" stroke="#00ff00" stroke-width="1.2"/>
<path d="M103.66 344 L105.56 347 L103.66 350 L101.76 347Z" fill="none" stroke="#00ff00" stroke-width="1.2"/>
<path d="M118.45 353.1 L120.35 356.1 L118.45 359.1 L116.55 356.1Z" fill="none" stroke="#00ff00" stroke-width="1.2"/>
<path d="M133.24 349.7 L135.14 352.7 L133.24 355.7 L131.34 352.7Z" fill="none" stroke="#00ff00" stroke-width="1.2"/>
<path d="M148.03 347.4 L149.93 350.4 L148.03 353.4 L146.13 350.4Z" fill="none" stroke="#00ff00" stroke-width="1.2"/>
<path d="M162.82 342.3 L164.72 345.3 L162.82 348.3 L160.92 345.3Z" fill="none" stroke="#00ff00" stroke-width="1.2"/>
<path d="M177.61 337.3 L179.51 340.3 L177.61 343.3 L175.71 340.3Z" fill="none" stroke="#00ff00" stroke-width="1.2"/>
<path d="M192.4 341.9 L194.3 344.9 L192.4 347.9 L190.5 344.9Z" fill="none" stroke="#00ff00" stroke-width="1.2"/>
<path d="M207.19 337.3 L209.09 340.3 L207.19 343.3 L205.29 340.3Z" fill="none" stroke="#00ff00" stroke-width="1.2"/>
<path d="M221.98 331.6 L223.88 334.6 L221.98 337.6 L220.08 334.6Z" fill="none" stroke="#00ff00" stroke-width="1.2"/>
<path d="M236.77 326.5 L238.67 329.5 L236.77 332.5 L234.87 329.5Z" fill="none" stroke="#00ff00" stroke-width="1.2"/>
<path d="M251.56 321.7 L253.46 324.7 L251.56 327.7 L249.66 324.7Z" fill="none" stroke="#00ff00" stroke-width="1.2"/>
<polyline points="44.5,299.7 59.29,304.3 74.08,316.1 88.87,326.9 103.66,347.7 118.45,353.4 133.24,350.9 148.03,349.3 162.82,346 177.61,343.7 192.4,349.9 207.19,347.1 221.98,343.7 236.77,340.7 251.56,338 265.76,334.6" stroke="#ff0000" stroke-width="0.99" stroke-dasharray="2 0.4"/>
<rect x="42.85" y="298.05" width="3.3" height="3.3" fill="none" stroke="#ff0000" stroke-width="1.2"/>
<rect x="57.64" y="302.65" width="3.3" height="3.3" fill="none" stroke="#ff0000" stroke-width="1.2"/>
<rect x="72.43" y="314.45" width="3.3" height="3.3" fill="none" stroke="#ff0000" stroke-width="1.2"/>
<rect x="87.22" y="325.25" width="3.3" height="3.3" fill="none" stroke="#ff0000" stroke-width="1.2"/>
<rect x="102.01" y="346.05" width="3.3" height="3.3" fill="none" stroke="#ff0000" stroke-width="1.2"/>
<rect x="116.8" y="351.75" width="3.3" height="3.3" fill="none" stroke="#ff0000" stroke-width="1.2"/>
<rect x="131.59" y="349.25" width="3.3" height="3.3" fill="none" stroke="#ff0000" stroke-width="1.2"/>
<rect x="146.38" y="347.65" width="3.3" height="3.3" fill="none" stroke="#ff0000" stroke-width="1.2"/>
<rect x="161.17" y="344.35" width="3.3" height="3.3" fill="none" stroke="#ff0000" stroke-width="1.2"/>
<rect x="175.96" y="342.05" width="3.3" height="3.3" fill="none" stroke="#ff0000" stroke-width="1.2"/>
<rect x="190.75" y="348.25" width="3.3" height="3.3" fill="none" stroke="#ff0000" stroke-width="1.2"/>
<rect x="205.54" y="345.45" width="3.3" height="3.3" fill="none" stroke="#ff0000" stroke-width="1.2"/>
<rect x="220.33" y="342.05" width="3.3" height="3.3" fill="none" stroke="#ff0000" stroke-width="1.2"/>
<rect x="235.12" y="339.05" width="3.3" height="3.3" fill="none" stroke="#ff0000" stroke-width="1.2"/>
<rect x="249.91" y="336.35" width="3.3" height="3.3" fill="none" stroke="#ff0000" stroke-width="1.2"/>
<polyline points="44.5,331 59.29,343.6 74.08,354.3 88.87,363 103.66,371.7 118.45,379.7 133.24,387 148.03,393.9 162.82,402.1 177.61,409 192.4,415.8 207.19,422.7 221.98,428.9 236.77,434.6 251.56,439.8 265.76,444.9" stroke="#0000ff" stroke-width="1.45"/>
<circle cx="44.5" cy="331" r="1.95" fill="none" stroke="#0000ff" stroke-width="1.2"/>
<circle cx="59.29" cy="343.6" r="1.95" fill="none" stroke="#0000ff" stroke-width="1.2"/>
<circle cx="74.08" cy="354.3" r="1.95" fill="none" stroke="#0000ff" stroke-width="1.2"/>
<circle cx="88.87" cy="363" r="1.95" fill="none" stroke="#0000ff" stroke-width="1.2"/>
<circle cx="103.66" cy="371.7" r="1.95" fill="none" stroke="#0000ff" stroke-width="1.2"/>
<circle cx="118.45" cy="379.7" r="1.95" fill="none" stroke="#0000ff" stroke-width="1.2"/>
<circle cx="133.24" cy="387" r="1.95" fill="none" stroke="#0000ff" stroke-width="1.2"/>
<circle cx="148.03" cy="393.9" r="1.95" fill="none" stroke="#0000ff" stroke-width="1.2"/>
<circle cx="162.82" cy="402.1" r="1.95" fill="none" stroke="#0000ff" stroke-width="1.2"/>
<circle cx="177.61" cy="409" r="1.95" fill="none" stroke="#0000ff" stroke-width="1.2"/>
<circle cx="192.4" cy="415.8" r="1.95" fill="none" stroke="#0000ff" stroke-width="1.2"/>
<circle cx="207.19" cy="422.7" r="1.95" fill="none" stroke="#0000ff" stroke-width="1.2"/>
<circle cx="221.98" cy="428.9" r="1.95" fill="none" stroke="#0000ff" stroke-width="1.2"/>
<circle cx="236.77" cy="434.6" r="1.95" fill="none" stroke="#0000ff" stroke-width="1.2"/>
<circle cx="251.56" cy="439.8" r="1.95" fill="none" stroke="#0000ff" stroke-width="1.2"/>
<polyline points="44.5,324.2 59.29,336.9 74.08,347.4 88.87,353.4 103.66,367.6 118.45,373.7 133.24,378.3 148.03,383.6 162.82,390 177.61,393.9 192.4,404.9 207.19,410.1 221.98,414 236.77,419.3 251.56,424.3 265.76,427.7" stroke="#00ff00" stroke-width="1.45"/>
<path d="M44.5 321.2 L46.4 324.2 L44.5 327.2 L42.6 324.2Z" fill="none" stroke="#00ff00" stroke-width="1.2"/>
<path d="M59.29 333.9 L61.19 336.9 L59.29 339.9 L57.39 336.9Z" fill="none" stroke="#00ff00" stroke-width="1.2"/>
<path d="M74.08 344.4 L75.98 347.4 L74.08 350.4 L72.18 347.4Z" fill="none" stroke="#00ff00" stroke-width="1.2"/>
<path d="M88.87 350.4 L90.77 353.4 L88.87 356.4 L86.97 353.4Z" fill="none" stroke="#00ff00" stroke-width="1.2"/>
<path d="M103.66 364.6 L105.56 367.6 L103.66 370.6 L101.76 367.6Z" fill="none" stroke="#00ff00" stroke-width="1.2"/>
<path d="M118.45 370.7 L120.35 373.7 L118.45 376.7 L116.55 373.7Z" fill="none" stroke="#00ff00" stroke-width="1.2"/>
<path d="M133.24 375.3 L135.14 378.3 L133.24 381.3 L131.34 378.3Z" fill="none" stroke="#00ff00" stroke-width="1.2"/>
<path d="M148.03 380.6 L149.93 383.6 L148.03 386.6 L146.13 383.6Z" fill="none" stroke="#00ff00" stroke-width="1.2"/>
<path d="M162.82 387 L164.72 390 L162.82 393 L160.92 390Z" fill="none" stroke="#00ff00" stroke-width="1.2"/>
<path d="M177.61 390.9 L179.51 393.9 L177.61 396.9 L175.71 393.9Z" fill="none" stroke="#00ff00" stroke-width="1.2"/>
<path d="M192.4 401.9 L194.3 404.9 L192.4 407.9 L190.5 404.9Z" fill="none" stroke="#00ff00" stroke-width="1.2"/>
<path d="M207.19 407.1 L209.09 410.1 L207.19 413.1 L205.29 410.1Z" fill="none" stroke="#00ff00" stroke-width="1.2"/>
<path d="M221.98 411 L223.88 414 L221.98 417 L220.08 414Z" fill="none" stroke="#00ff00" stroke-width="1.2"/>
<path d="M236.77 416.3 L238.67 419.3 L236.77 422.3 L234.87 419.3Z" fill="none" stroke="#00ff00" stroke-width="1.2"/>
<path d="M251.56 421.3 L253.46 424.3 L251.56 427.3 L249.66 424.3Z" fill="none" stroke="#00ff00" stroke-width="1.2"/>
<polyline points="44.5,324.1 59.29,336.7 74.08,347 88.87,352.7 103.66,366.4 118.45,372.8 133.24,376.7 148.03,382 162.82,387 177.61,390.7 192.4,402.1 207.19,406.7 221.98,410.1 236.77,415.1 251.56,419.3 265.76,423.1" stroke="#ff0000" stroke-width="1.45"/>
<rect x="42.85" y="322.45" width="3.3" height="3.3" fill="none" stroke="#ff0000" stroke-width="1.2"/>
<rect x="57.64" y="335.05" width="3.3" height="3.3" fill="none" stroke="#ff0000" stroke-width="1.2"/>
<rect x="72.43" y="345.35" width="3.3" height="3.3" fill="none" stroke="#ff0000" stroke-width="1.2"/>
<rect x="87.22" y="351.05" width="3.3" height="3.3" fill="none" stroke="#ff0000" stroke-width="1.2"/>
<rect x="102.01" y="364.75" width="3.3" height="3.3" fill="none" stroke="#ff0000" stroke-width="1.2"/>
<rect x="116.8" y="371.15" width="3.3" height="3.3" fill="none" stroke="#ff0000" stroke-width="1.2"/>
<rect x="131.59" y="375.05" width="3.3" height="3.3" fill="none" stroke="#ff0000" stroke-width="1.2"/>
<rect x="146.38" y="380.35" width="3.3" height="3.3" fill="none" stroke="#ff0000" stroke-width="1.2"/>
<rect x="161.17" y="385.35" width="3.3" height="3.3" fill="none" stroke="#ff0000" stroke-width="1.2"/>
<rect x="175.96" y="389.05" width="3.3" height="3.3" fill="none" stroke="#ff0000" stroke-width="1.2"/>
<rect x="190.75" y="400.45" width="3.3" height="3.3" fill="none" stroke="#ff0000" stroke-width="1.2"/>
<rect x="205.54" y="405.05" width="3.3" height="3.3" fill="none" stroke="#ff0000" stroke-width="1.2"/>
<rect x="220.33" y="408.45" width="3.3" height="3.3" fill="none" stroke="#ff0000" stroke-width="1.2"/>
<rect x="235.12" y="413.45" width="3.3" height="3.3" fill="none" stroke="#ff0000" stroke-width="1.2"/>
<rect x="249.91" y="417.65" width="3.3" height="3.3" fill="none" stroke="#ff0000" stroke-width="1.2"/>
</g>
<text x="40.8" y="462.8" font-size="11.6" text-anchor="end" >0.2</text>
<text x="40.8" y="430.35" font-size="11.6" text-anchor="end" >0.3</text>
<text x="40.8" y="397.89" font-size="11.6" text-anchor="end" >0.4</text>
<text x="40.8" y="365.44" font-size="11.6" text-anchor="end" >0.5</text>
<text x="40.8" y="332.98" font-size="11.6" text-anchor="end" >0.6</text>
<text x="40.8" y="300.53" font-size="11.6" text-anchor="end" >0.7</text>
<text x="44.7" y="473.2" font-size="11.6" text-anchor="middle" >5</text>
<text x="118.65" y="473.2" font-size="11.6" text-anchor="middle" >10</text>
<text x="192.6" y="473.2" font-size="11.6" text-anchor="middle" >15</text>
<text x="131.08" y="487.7" font-size="12.3" textLength="8.65" lengthAdjust="spacingAndGlyphs" font-style="italic" class="n">X</text>
<text x="140.5" y="489.3" font-size="8" textLength="15.3" lengthAdjust="spacingAndGlyphs" class="s">max</text>
<text x="161.4" y="487.7" font-size="12.3" textLength="17.8" lengthAdjust="spacingAndGlyphs">(m)</text>
<g transform="translate(20.6 369.9) rotate(-90)"><text x="0" y="0" text-anchor="middle"><tspan font-family="'DejaVu Math TeX Gyre', 'Liberation Serif', serif" font-size="12.8">𝒰</tspan><tspan font-size="8.4" font-style="italic" dy="1.6">s</tspan></text></g>
<path d="M52.1 386.4h13.4" stroke="#000" stroke-width="1.4"/>
<path d="M52.1 401.2h14.2" stroke="#333" stroke-width="0.8" stroke-dasharray="1.4 0.6"/>
<text x="67.57" y="389.6" font-size="10.6" textLength="4.93" lengthAdjust="spacingAndGlyphs" font-style="italic" class="n">ρ</text>
<text x="73.7" y="384.8" font-size="8.6" textLength="9.84" lengthAdjust="spacingAndGlyphs" font-style="italic" class="s">opt</text>
<text x="73.41" y="392.8" font-size="7.9" textLength="10.88" lengthAdjust="spacingAndGlyphs" font-style="italic" class="s">x,V</text>
<text x="67.57" y="403.7" font-size="10.6" textLength="4.93" lengthAdjust="spacingAndGlyphs" font-style="italic" class="n">ρ</text>
<text x="73.7" y="401.5" font-size="8.6" textLength="11.8" lengthAdjust="spacingAndGlyphs" class="s">min</text>
<text x="73.43" y="406.9" font-size="7.9" textLength="9.89" lengthAdjust="spacingAndGlyphs" font-style="italic" class="s">x,I</text>
<circle cx="59.35" cy="415.2" r="1.95" fill="none" stroke="#0000ff" stroke-width="1.4"/>
<path d="M59.35 426.1l2.1 2.9l-2.1 2.9l-2.1 -2.9z" fill="none" stroke="#00ff00" stroke-width="1.3"/>
<rect x="57.8" y="441.15" width="3.1" height="3.1" fill="none" stroke="#ff0000" stroke-width="1.4"/>
<text x="68.16" y="418.2" font-size="11.6" textLength="8.87" lengthAdjust="spacingAndGlyphs" font-style="italic" class="n">K</text>
<text x="77.91" y="420.4" font-size="7.8" textLength="11.09" lengthAdjust="spacingAndGlyphs" font-style="italic" class="s">L,x</text>
<text x="93.2" y="418.2" font-size="11.6" textLength="8.6" lengthAdjust="spacingAndGlyphs" class="n">=</text>
<text x="105.3" y="418.2" font-size="11.6" textLength="6.9" lengthAdjust="spacingAndGlyphs">5,</text>
<text x="112.6" y="418.2" font-size="11.6" textLength="8.08" lengthAdjust="spacingAndGlyphs" font-style="italic" class="n">C</text>
<text x="121" y="420.4" font-size="7.8" textLength="4.7" lengthAdjust="spacingAndGlyphs" font-style="italic" class="s">S</text>
<text x="129.7" y="418.2" font-size="11.6" textLength="8.6" lengthAdjust="spacingAndGlyphs" class="n">=</text>
<text x="142.4" y="418.2" font-size="11.6" textLength="13.4" lengthAdjust="spacingAndGlyphs">1.0</text>
<text x="68.16" y="431.8" font-size="11.6" textLength="8.87" lengthAdjust="spacingAndGlyphs" font-style="italic" class="n">K</text>
<text x="77.91" y="434" font-size="7.8" textLength="11.09" lengthAdjust="spacingAndGlyphs" font-style="italic" class="s">L,x</text>
<text x="93.2" y="431.8" font-size="11.6" textLength="8.6" lengthAdjust="spacingAndGlyphs" class="n">=</text>
<text x="105.3" y="431.8" font-size="11.6" textLength="6.9" lengthAdjust="spacingAndGlyphs">7,</text>
<text x="112.6" y="431.8" font-size="11.6" textLength="8.08" lengthAdjust="spacingAndGlyphs" font-style="italic" class="n">C</text>
<text x="121" y="434" font-size="7.8" textLength="4.7" lengthAdjust="spacingAndGlyphs" font-style="italic" class="s">S</text>
<text x="129.7" y="431.8" font-size="11.6" textLength="8.6" lengthAdjust="spacingAndGlyphs" class="n">=</text>
<text x="142.4" y="431.8" font-size="11.6" textLength="13.4" lengthAdjust="spacingAndGlyphs">1.2</text>
<text x="68.16" y="445.5" font-size="11.6" textLength="8.87" lengthAdjust="spacingAndGlyphs" font-style="italic" class="n">K</text>
<text x="77.91" y="447.7" font-size="7.8" textLength="11.09" lengthAdjust="spacingAndGlyphs" font-style="italic" class="s">L,x</text>
<text x="93.2" y="445.5" font-size="11.6" textLength="8.6" lengthAdjust="spacingAndGlyphs" class="n">=</text>
<text x="105.3" y="445.5" font-size="11.6" textLength="6.9" lengthAdjust="spacingAndGlyphs">6,</text>
<text x="112.6" y="445.5" font-size="11.6" textLength="8.08" lengthAdjust="spacingAndGlyphs" font-style="italic" class="n">C</text>
<text x="121" y="447.7" font-size="7.8" textLength="4.7" lengthAdjust="spacingAndGlyphs" font-style="italic" class="s">S</text>
<text x="129.7" y="445.5" font-size="11.6" textLength="8.6" lengthAdjust="spacingAndGlyphs" class="n">=</text>
<text x="142.4" y="445.5" font-size="11.6" textLength="13.4" lengthAdjust="spacingAndGlyphs">1.2</text>
<text x="199.46" y="449.6" font-size="11.6" textLength="8.87" lengthAdjust="spacingAndGlyphs" font-style="italic" class="n">K</text>
<text x="209.4" y="451.8" font-size="7.8" textLength="10.39" lengthAdjust="spacingAndGlyphs" font-style="italic" class="s">L,y</text>
<text x="223.9" y="449.6" font-size="11.6" textLength="8.4" lengthAdjust="spacingAndGlyphs" class="n">=</text>
<text x="235.5" y="449.6" font-size="11.6" textLength="5.8" lengthAdjust="spacingAndGlyphs">5</text>
<text x="134.2" y="518" font-size="12.4" font-weight="bold" text-anchor="middle" fill="#1a1a1a" style="stroke:none">(c)</text>
</svg>
</body></html>
